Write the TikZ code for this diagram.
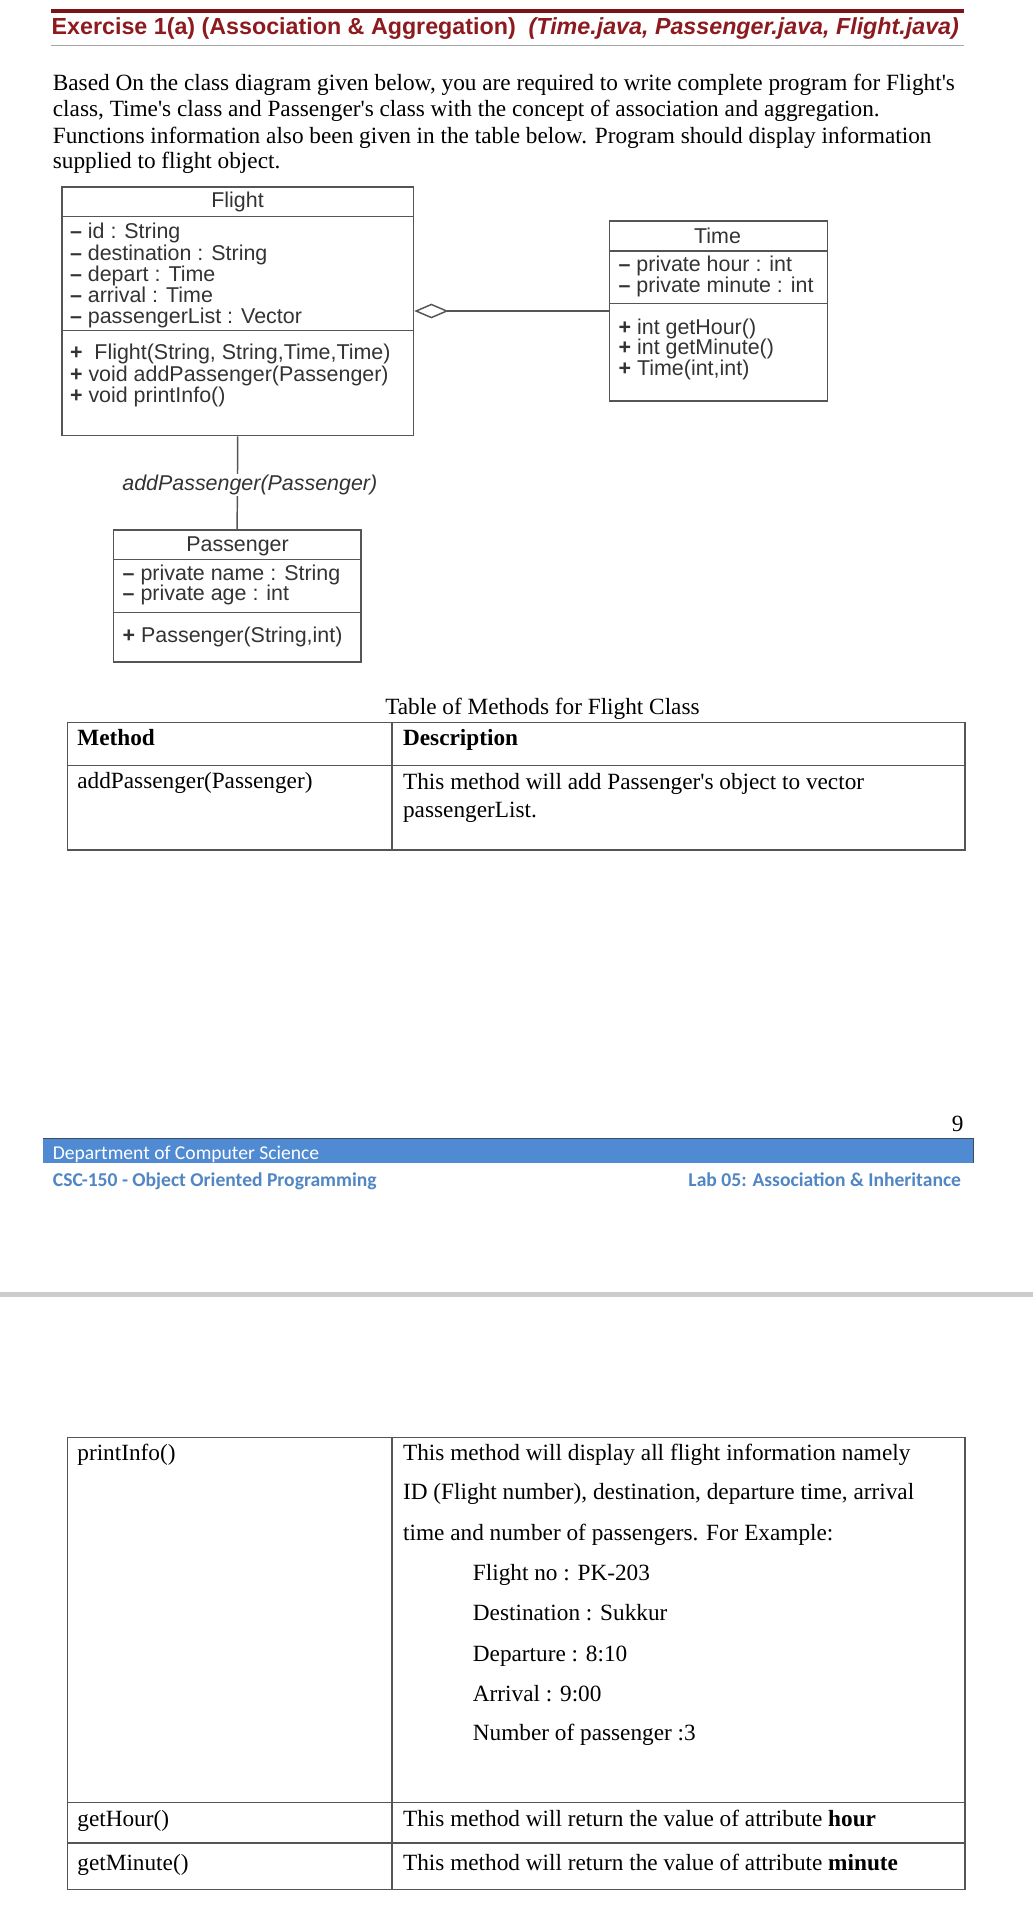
\documentclass[tikz,border=0pt]{standalone}
\usepackage{fontspec}
\setmainfont{Liberation Serif}
\newfontfamily\umlfont{Liberation Sans}
\newfontfamily\footfont{Carlito}
\usetikzlibrary{arrows.meta}
\definecolor{titlered}{HTML}{8C1A1E}
\definecolor{rulered}{HTML}{7A1417}
\definecolor{umlgray}{HTML}{333333}
\definecolor{linegray}{HTML}{555555}
\definecolor{barblue}{HTML}{4F8AD2}
\definecolor{baredge}{HTML}{3D4B5E}
\definecolor{footblue}{HTML}{5186C4}
\newcommand{\aps}{\textquotesingle}
\tikzset{
  txt/.style={anchor=mid west, inner sep=0pt, yshift=-3.5pt, font=\fontsize{19}{22}\selectfont},
  tbl/.style={anchor=mid west, inner sep=0pt, yshift=-3.5pt, font=\fontsize{19}{22}\selectfont},
  uml/.style={anchor=mid west, inner sep=0pt, yshift=-3.5pt, text=umlgray, font=\umlfont\fontsize{17.5}{20}\selectfont},
  umltitle/.style={anchor=mid, inner sep=0pt, yshift=-3.5pt, text=umlgray, font=\umlfont\fontsize{17.5}{20}\selectfont},
  classbox/.style={draw=linegray, line width=1.3pt, anchor=north west, inner sep=0pt},
  umlline/.style={draw=linegray, line width=1.2pt},
  tline/.style={draw=linegray, line width=1.2pt},
  foot/.style={inner sep=0pt, yshift=-3pt, font=\footfont\fontsize{16}{18}\selectfont}
}
\begin{document}
\begin{tikzpicture}[x=1pt,y=-1pt]
\useasboundingbox (0,0) rectangle (844,1568);
\fill[white] (0,0) rectangle (844,1568);
% header
\fill[rulered] (42,7) rectangle (787,10.5);
\node[anchor=mid west, inner sep=0pt, yshift=-4pt, text=titlered, font=\umlfont\bfseries\fontsize{19}{22}\selectfont] (title) at (42,22)
  {Exercise 1(a) (Association \& Aggregation)\ \ \textit{(Time.java, Passenger.java, Flight.java)}};
\draw[gray!70, line width=0.8pt] (42,37) -- (787,37);
% paragraph
\node[txt] (p1) at (43,68) {Based On the class diagram given below, you are required to write complete program for Flight\aps s};
\node[txt] (p2) at (43,89) {class, Time\aps s class and Passenger\aps s class with the concept of association and aggregation.};
\node[txt] (p3) at (43,111) {Functions information also been given in the table below. Program should display information};
\node[txt] (p4) at (43,132) {supplied to flight object.};
% Flight class
\node[classbox, minimum width=287pt, minimum height=203pt] (flight) at (50,152) {};
\node[umltitle] (flightname) at (194,164) {Flight};
\draw[umlline] (50,177) -- (337,177);
\node[uml] (f1) at (57,189) {\textbf{–} id : String};
\node[uml] (f2) at (57,207) {\textbf{–} destination : String};
\node[uml] (f3) at (57,224) {\textbf{–} depart : Time};
\node[uml] (f4) at (57,241) {\textbf{–} arrival : Time};
\node[uml] (f5) at (57,258) {\textbf{–} passengerList : Vector};
\draw[umlline] (50,270) -- (337,270);
\node[uml] (f6) at (57,288) {\textbf{+}\ \ Flight(String, String,Time,Time)};
\node[uml] (f7) at (57,306) {\textbf{+}\ void addPassenger(Passenger)};
\node[uml] (f8) at (57,323) {\textbf{+}\ void printInfo()};
% Time class
\node[classbox, minimum width=178pt, minimum height=147pt] (time) at (497,180) {};
\node[umltitle] (timename) at (586,193) {Time};
\draw[umlline] (497,205) -- (675,205);
\node[uml] (t1) at (505,216) {\textbf{–}\ private hour : int};
\node[uml] (t2) at (505,233) {\textbf{–}\ private minute : int};
\draw[umlline] (497,248) -- (675,248);
\node[uml] (t3) at (505,267) {\textbf{+} int getHour()};
\node[uml] (t4) at (505,284) {\textbf{+} int getMinute()};
\node[uml] (t5) at (505,301) {\textbf{+} Time(int,int)};
% aggregation
\coordinate (aggF) at (flight.east |- 0,254);
\coordinate (aggT) at (time.west |- 0,254);
\draw[umlline, -{Diamond[open, length=28pt, width=12pt, line width=1.2pt]}] (aggT) -- (aggF);
% Passenger class
\node[classbox, minimum width=202pt, minimum height=108pt] (passenger) at (92,432) {};
\node[umltitle] (passname) at (194,445) {Passenger};
\draw[umlline] (92,457) -- (294,457);
\node[uml] (pa1) at (100,468) {\textbf{–}\ private name : String};
\node[uml] (pa2) at (100,485) {\textbf{–}\ private age : int};
\draw[umlline] (92,500) -- (294,500);
\node[uml] (pa3) at (100,519) {\textbf{+} Passenger(String,int)};
\draw[umlline] (flight.south) -- (passenger.north);
\node[anchor=mid, inner sep=1pt, yshift=-3.5pt, fill=white, text=umlgray, font=\umlfont\itshape\fontsize{17.5}{20}\selectfont] (lbl) at (204,395) {addPassenger(Passenger)};
% table 1
\node[anchor=mid, inner sep=0pt, yshift=-3.5pt, font=\fontsize{19}{22}\selectfont] (cap) at (443,578) {Table of Methods for Flight Class};
\draw[tline] (55,590) rectangle (788,694);
\draw[tline] (55,625) -- (788,625);
\draw[tline] (320,590) -- (320,694);
\node[tbl, font=\bfseries\fontsize{19}{22}\selectfont] (h1) at (63,603) {Method};
\node[tbl, font=\bfseries\fontsize{19}{22}\selectfont] (h2) at (329,603) {Description};
\node[tbl] (r1a) at (63,638) {addPassenger(Passenger)};
\node[tbl] (r1b) at (329,639) {This method will add Passenger\aps s object to vector};
\node[tbl] (r1c) at (329,662) {passengerList.};
% footer
\node[anchor=mid east, inner sep=0pt, yshift=-3.5pt, font=\fontsize{19}{22}\selectfont] (pgno) at (787,918) {9};
\fill[barblue] (35,930) rectangle (795,950);
\draw[baredge, line width=1pt] (35,930) -- (795,930) -- (795,950);
\node[foot, anchor=mid west, text=white] (dept) at (43,942) {Department of Computer Science};
\node[foot, anchor=mid west, text=footblue, font=\footfont\bfseries\fontsize{16}{18}\selectfont] (course) at (43,964) {CSC-150 - Object Oriented Programming};
\node[foot, anchor=mid east, text=footblue, font=\footfont\bfseries\fontsize{16}{18}\selectfont] (lab) at (785,964) {Lab 05: Association \& Inheritance};
\fill[gray!40] (0,1055) rectangle (844,1059);
% table 2
\draw[tline] (55,1174) rectangle (788,1543);
\draw[tline] (55,1472) -- (788,1472);
\draw[tline] (55,1505) -- (788,1505);
\draw[tline] (320,1174) -- (320,1543);
\node[tbl] (q1) at (63,1187) {printInfo()};
\node[tbl] (d1) at (329,1187) {This method will display all flight information namely};
\node[tbl] (d2) at (329,1219) {ID (Flight number), destination, departure time, arrival};
\node[tbl] (d3) at (329,1252) {time and number of passengers. For Example:};
\node[tbl] (d4) at (386,1285) {Flight no : PK-203};
\node[tbl] (d5) at (386,1318) {Destination : Sukkur};
\node[tbl] (d6) at (386,1351) {Departure : 8:10};
\node[tbl] (d7) at (386,1384) {Arrival : 9:00};
\node[tbl] (d8) at (386,1416) {Number of passenger :3};
\node[tbl] (q2) at (63,1486) {getHour()};
\node[tbl] (d9) at (329,1486) {This method will return the value of attribute \textbf{hour}};
\node[tbl] (q3) at (63,1522) {getMinute()};
\node[tbl] (d10) at (329,1522) {This method will return the value of attribute \textbf{minute}};
\end{tikzpicture}
\end{document}
